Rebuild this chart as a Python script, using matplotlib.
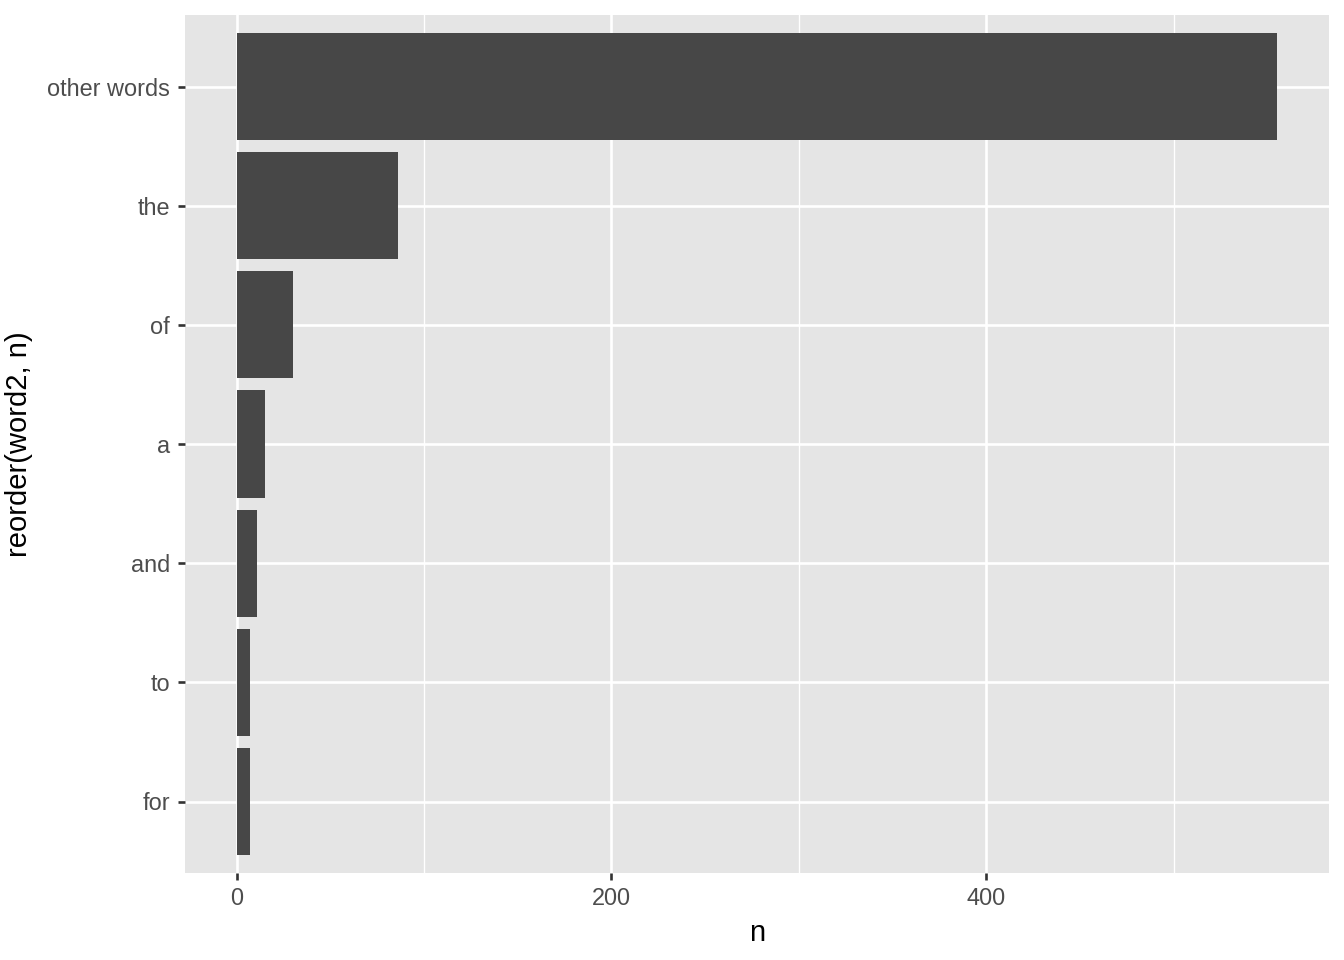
import matplotlib
matplotlib.use("Agg")
import matplotlib.pyplot as plt
import numpy as np

# data (top to bottom)
words = ["other words", "the", "of", "a", "and", "to", "for"]
counts = [555, 86, 30, 15, 11, 7, 7]

plt.rcParams['font.family'] = ['Liberation Sans', 'DejaVu Sans']

fig = plt.figure(figsize=(13.44, 9.6), dpi=100)
W, H = 1344, 960
ax = fig.add_axes([184.5 / W, 1 - 873 / H, (1329 - 184.5) / W, (873 - 15) / H])

ypos = np.arange(len(words))[::-1]
ax.set_facecolor("#E5E5E5")
ax.barh(ypos, counts, height=0.9, color="#474747", zorder=3)

xmax = max(counts)
pad = xmax * 0.05
ax.set_xlim(-pad, xmax + pad)
ax.set_ylim(-0.6, len(words) - 0.4)

ax.set_xticks([0, 200, 400])
ax.set_xticks([100, 300, 500], minor=True)
ax.set_yticks(ypos)
ax.set_yticklabels(words)

ax.grid(True, which="major", color="white", linewidth=1.9, zorder=1)
ax.grid(True, which="minor", axis="x", color="white", linewidth=0.95, zorder=1)
ax.set_axisbelow(True)

for s in ax.spines.values():
    s.set_visible(False)

ax.tick_params(axis="both", which="major", length=5.3, width=1.9, color="#333333",
               labelsize=16.9, labelcolor="#4D4D4D", pad=5)
ax.tick_params(axis="both", which="minor", length=0)

ax.set_xlabel("n", fontsize=21, color="black", labelpad=6)
ax.set_ylabel("reorder(word2, n)", fontsize=21, color="black", labelpad=10)

fig.savefig("out.png", dpi=100)
